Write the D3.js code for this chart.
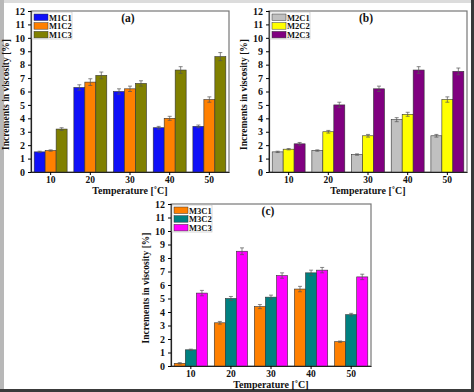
<!DOCTYPE html>
<html>
<head>
<meta charset="utf-8">
<script src="https://cdn.jsdelivr.net/npm/d3@7"></script>
<style>
  body { margin: 0; background: #fff; }
  svg text { font-family: "Liberation Serif", "Times New Roman", serif; font-weight: bold; }
</style>
</head>
<body>
<svg id="chart" width="474" height="392"></svg>
<script>
var temps = ["10", "20", "30", "40", "50"];
var yTicks = [0,1,2,3,4,5,6,7,8,9,10,11,12];

// panel (a)
var namesA = ["M1C1", "M1C2", "M1C3"];
var colorsA = ["#1010f8", "#ff8000", "#808000"];
var m1c1 = [1.5, 6.3, 6.0, 3.3, 3.4];
var m1c2 = [1.6, 6.7, 6.2, 4.0, 5.4];
var m1c3 = [3.2, 7.2, 6.6, 7.6, 8.6];
var errA1 = [0.05, 0.2, 0.2, 0.1, 0.1];
var errA2 = [0.05, 0.25, 0.2, 0.15, 0.2];
var errA3 = [0.1, 0.25, 0.2, 0.25, 0.3];

// panel (b)
var namesB = ["M2C1", "M2C2", "M2C3"];
var colorsB = ["#c0c0c0", "#ffff00", "#800080"];
var m2c1 = [1.5, 1.6, 1.3, 3.9, 2.7];
var m2c2 = [1.7, 3.0, 2.7, 4.3, 5.4];
var m2c3 = [2.1, 5.0, 6.2, 7.6, 7.5];
var errB1 = [0.05, 0.05, 0.05, 0.15, 0.1];
var errB2 = [0.05, 0.1, 0.1, 0.15, 0.2];
var errB3 = [0.1, 0.2, 0.2, 0.25, 0.25];

// panel (c)
var namesC = ["M3C1", "M3C2", "M3C3"];
var colorsC = ["#ff8000", "#008080", "#ff00ff"];
var m3c1 = [0.2, 3.2, 4.4, 5.7, 1.8];
var m3c2 = [1.2, 5.0, 5.1, 6.9, 3.8];
var m3c3 = [5.4, 8.5, 6.7, 7.1, 6.6];
var errC1 = [0.05, 0.1, 0.15, 0.2, 0.05];
var errC2 = [0.05, 0.15, 0.15, 0.2, 0.1];
var errC3 = [0.2, 0.25, 0.2, 0.2, 0.2];

var svg = d3.select("#chart");

// page frame strips
svg.append("rect").attr("x",0).attr("y",0).attr("width",474).attr("height",3).attr("fill","#dcdcdc");
svg.append("rect").attr("x",0).attr("y",0).attr("width",4).attr("height",392).attr("fill","#b8b8b8");
svg.append("rect").attr("x",471).attr("y",0).attr("width",3).attr("height",392).attr("fill","#3a3a3a");
svg.append("rect").attr("x",0).attr("y",389).attr("width",474).attr("height",3).attr("fill","#3a3a3a");

function drawPanel(cfg){
  var g = svg.append("g");
  var x = d3.scaleBand().domain(temps).range([cfg.x0, cfg.x1]).paddingInner(0.17).paddingOuter(0.08);
  var y = d3.scaleLinear().domain([0, 12]).range([cfg.y1, cfg.y0]);
  var xs = d3.scaleBand().domain(cfg.names).range([0, x.bandwidth()]);

  // frame
  g.append("rect").attr("x", cfg.x0).attr("y", cfg.y0)
    .attr("width", cfg.x1 - cfg.x0).attr("height", cfg.y1 - cfg.y0)
    .attr("fill", "none").attr("stroke", "#777").attr("stroke-width", 1.2);

  // bars
  cfg.series.forEach(function(s, i){
    var sg = g.append("g");
    sg.selectAll("rect").data(s).enter().append("rect")
      .attr("x", function(d, j){ return x(temps[j]) + xs(cfg.names[i]); })
      .attr("y", function(d){ return y(d); })
      .attr("width", xs.bandwidth())
      .attr("height", function(d){ return y(0) - y(d); })
      .attr("fill", cfg.colors[i])
      .attr("stroke", "#333").attr("stroke-width", 0.6);
    // error bars
    sg.selectAll("path").data(s).enter().append("path")
      .attr("d", function(d, j){
        var cx = x(temps[j]) + xs(cfg.names[i]) + xs.bandwidth()/2;
        var e = cfg.errs[i][j];
        return "M" + cx + "," + y(d - e) + "V" + y(d + e) +
               "M" + (cx-2) + "," + y(d + e) + "H" + (cx+2) +
               "M" + (cx-2) + "," + y(d - e) + "H" + (cx+2);
      })
      .attr("stroke", "#555").attr("stroke-width", 0.7).attr("fill", "none");
  });

  // axes
  var yAxis = d3.axisLeft(y).tickValues(yTicks).tickSize(3).tickPadding(3);
  var ya = g.append("g").attr("transform", "translate(" + cfg.x0 + ",0)").call(yAxis);
  ya.select(".domain").attr("stroke", "#222").attr("stroke-width", 1.2);
  ya.selectAll("text").attr("font-size", 10).attr("fill", "#111");

  var xAxis = d3.axisBottom(x).tickSize(3).tickPadding(1).tickSizeOuter(0);
  var xa = g.append("g").attr("transform", "translate(0," + cfg.y1 + ")").call(xAxis);
  xa.select(".domain").attr("stroke", "#222").attr("stroke-width", 1.2);
  xa.selectAll("text").attr("font-size", 9.5).attr("fill", "#111");

  // axis titles
  g.append("text").attr("x", (cfg.x0 + cfg.x1)/2).attr("y", cfg.y1 + 22)
    .attr("text-anchor", "middle").attr("font-size", 10).attr("fill", "#111")
    .text("Temperature [˚C]");
  g.append("text")
    .attr("transform", "translate(" + (cfg.x0 - 22) + "," + ((cfg.y0 + cfg.y1)/2 + 3) + ") rotate(-90)")
    .attr("text-anchor", "middle").attr("font-size", 9.5).attr("fill", "#111")
    .text("Increments in viscosity [%]");

  // panel label
  g.append("text").attr("x", cfg.x0 + 97).attr("y", cfg.y0 + 11)
    .attr("text-anchor", "middle").attr("font-size", 11.5).attr("fill", "#111")
    .text(cfg.label);

  // legend
  var lg = g.append("g").attr("transform", "translate(" + (cfg.x0 + 2) + "," + (cfg.y0 + 2) + ")");
  lg.append("rect").attr("x", -1).attr("y", -1).attr("width", 40).attr("height", 27)
    .attr("fill", "#fff").attr("stroke", "#bbb").attr("stroke-width", 0.6);
  cfg.names.forEach(function(n, i){
    lg.append("rect").attr("x", 1).attr("y", 1 + i*8.7).attr("width", 14).attr("height", 6.5)
      .attr("fill", cfg.colors[i]).attr("stroke", "#333").attr("stroke-width", 0.5);
    lg.append("text").attr("x", 16).attr("y", 7.5 + i*8.7)
      .attr("font-size", 8.5).attr("font-weight", "normal").attr("fill", "#111").text(n);
  });
}

drawPanel({x0: 31, x1: 229, y0: 11, y1: 172, label: "(a)", names: namesA, colors: colorsA,
  series: [m1c1, m1c2, m1c3], errs: [errA1, errA2, errA3]});
drawPanel({x0: 269, x1: 467, y0: 11, y1: 172, label: "(b)", names: namesB, colors: colorsB,
  series: [m2c1, m2c2, m2c3], errs: [errB1, errB2, errB3]});
drawPanel({x0: 171, x1: 371, y0: 204, y1: 366, label: "(c)", names: namesC, colors: colorsC,
  series: [m3c1, m3c2, m3c3], errs: [errC1, errC2, errC3]});
</script>
</body>
</html>
